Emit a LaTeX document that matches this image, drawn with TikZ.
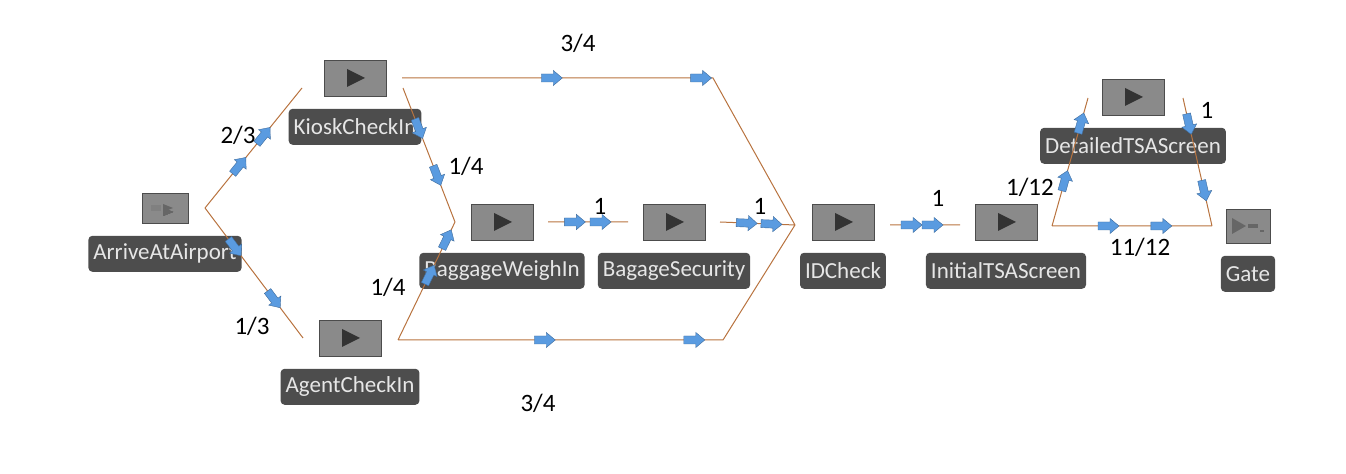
\documentclass[tikz,border=0pt]{standalone}
\usepackage{fontspec}
\setmainfont{Carlito}
\usetikzlibrary{positioning, decorations.markings}
\definecolor{boxgray}{HTML}{8A8A8A}
\definecolor{tagdark}{HTML}{4D4D4D}
\definecolor{tagtext}{HTML}{E6E6E6}
\definecolor{pathbrown}{HTML}{B8733F}
\definecolor{blipblue}{HTML}{5A9BE0}
\tikzset{
	x=0.5pt, y=-0.5pt,
	icon/.style={draw=black!70, fill=boxgray, minimum width=31pt, minimum height=18pt, inner sep=0pt},
	tag/.style={fill=tagdark, text=tagtext, rounded corners=2pt, minimum height=18pt, inner sep=2.5pt, font=\fontsize{11.5}{12}\selectfont},
	prob/.style={font=\fontsize{12.5}{13}\selectfont},
	flow/.style={draw=pathbrown, line width=0.5pt},
	mk/.style={postaction={decorate, decoration={markings, mark=at position #1 with {
		\fill[blipblue, draw=blipblue!70!black, line width=0.2pt]
			(-5pt,-2pt) -- (1pt,-2pt) -- (1pt,-3.8pt) -- (5.5pt,0pt) -- (1pt,3.8pt) -- (1pt,2pt) -- (-5pt,2pt) -- cycle;}}}}
}
\newcommand{\playmark}[1]{\fill[black!80] ([xshift=-4pt,yshift=4.5pt]#1.center) -- ([xshift=5pt]#1.center) -- ([xshift=-4pt,yshift=-4.5pt]#1.center) -- cycle;}

\begin{document}
\begin{tikzpicture}
	\useasboundingbox (0,0) rectangle (1346,474);
	
	% stations
	\node[icon, minimum width=23pt, minimum height=15pt] (arrive) at (165,208) {};
	\node[tag, below=6pt of arrive] (arriveL) {ArriveAtAirport};
	\node[icon] (kiosk) at (355,78) {};
	\node[tag, below=6pt of kiosk] (kioskL) {KioskCheckIn};
	\node[icon] (agent) at (350,338) {};
	\node[tag, below=6pt of agent] (agentL) {AgentCheckIn};
	\node[icon] (weigh) at (502,222) {};
	\node[tag, below=6pt of weigh] (weighL) {BaggageWeighIn};
	\node[icon] (secur) at (674,222) {};
	\node[tag, below=6pt of secur] (securL) {BagageSecurity};
	\node[icon] (idc) at (843,222) {};
	\node[tag, below=6pt of idc] (idcL) {IDCheck};
	\node[icon] (initial) at (1006,222) {};
	\node[tag, below=6pt of initial] (initialL) {InitialTSAScreen};
	\node[icon] (detail) at (1133,97) {};
	\node[tag, below=6pt of detail] (detailL) {DetailedTSAScreen};
	\node[icon, minimum width=22pt, minimum height=17pt] (gate) at (1248,226) {};
	\node[tag, below=6pt of gate] (gateL) {Gate};
	
	\foreach \n in {kiosk, agent, weigh, secur, idc, initial, detail}
		\playmark{\n}
	\fill[black!60] ([xshift=-1pt]arrive.center) -- ++(5pt,-2pt) -- ++(-5pt,-2pt) -- cycle;
	\fill[black!60] ([xshift=-1pt,yshift=2pt]arrive.center) -- ++(5pt,-2pt) -- ++(-5pt,-2pt) -- cycle;
	\fill[black!50] ([xshift=-7pt,yshift=1.5pt]arrive.center) rectangle ++(5pt,-3pt);
	\fill[black!60] ([xshift=-8pt,yshift=4pt]gate.center) -- ++(7pt,-4pt) -- ++(-7pt,-4pt) -- cycle;
	\fill[black!60] ([xshift=0pt,yshift=1pt]gate.center) rectangle ++(5pt,-2pt);
	\fill[black!60] ([xshift=6pt,yshift=-2pt]gate.center) rectangle ++(2pt,-1pt);
	
	% routing points
	\coordinate (a0) at (205,208);
	\coordinate (k0) at (302,88);
	\coordinate (g0) at (303,338);
	\coordinate (k1) at (402,78);
	\coordinate (k2) at (713,78);
	\coordinate (k3) at (403,88);
	\coordinate (w0) at (455,222);
	\coordinate (g1) at (398,340);
	\coordinate (g2) at (723,340);
	\coordinate (m0) at (795,225);
	\coordinate (w1) at (548,222);
	\coordinate (s0) at (628,222);
	\coordinate (s1) at (720,222);
	\coordinate (i0) at (890,225);
	\coordinate (t0) at (960,225);
	\coordinate (t1) at (1052,226);
	\coordinate (d0) at (1088,98);
	\coordinate (d1) at (1183,98);
	\coordinate (e0) at (1212,226);
	
	% routes
	\path[flow] (a0) -- (k0) (a0) -- (g0) (k1) -- (k2) -- (m0) (k3) -- (w0)
		(g1) -- (w0) (g1) -- (g2) -- (m0) (w1) -- (s0) (s1) -- (m0) (i0) -- (t0)
		(t1) -- (d0) (t1) -- (e0) (d1) -- (e0);
	
	% flow markers
	\path[mk=0.35, mk=0.6] (a0) -- (k0);
	\path[mk=0.3, mk=0.7] (a0) -- (g0);
	\path[mk=0.48, mk=0.96] (k1) -- (k2);
	\path[mk=0.3, mk=0.65] (k3) -- (w0);
	\path[mk=0.55, mk=0.85] (g1) -- (w0);
	\path[mk=0.45, mk=0.91] (g1) -- (g2);
	\path[mk=0.33, mk=0.65] (w1) -- (s0);
	\path[mk=0.35, mk=0.68] (s1) -- (m0);
	\path[mk=0.3, mk=0.6] (i0) -- (t0);
	\path[mk=0.35, mk=0.8] (t1) -- (d0);
	\path[mk=0.35, mk=0.68] (t1) -- (e0);
	\path[mk=0.2, mk=0.72] (d1) -- (e0);
	
	% probabilities
	\node[prob] (p1) at (238,135) {2/3};
	\node[prob] (p2) at (252,326) {1/3};
	\node[prob] (p3) at (578,43) {3/4};
	\node[prob] (p4) at (466,166) {1/4};
	\node[prob] (p5) at (388,287) {1/4};
	\node[prob] (p6) at (538,403) {3/4};
	\node[prob] (p7) at (600,206) {1};
	\node[prob] (p8) at (760,206) {1};
	\node[prob] (p9) at (938,198) {1};
	\node[prob] (p10) at (1030,187) {1/12};
	\node[prob] (p11) at (1207,110) {1};
	\node[prob] (p12) at (1140,247) {11/12};
\end{tikzpicture}
\end{document}
